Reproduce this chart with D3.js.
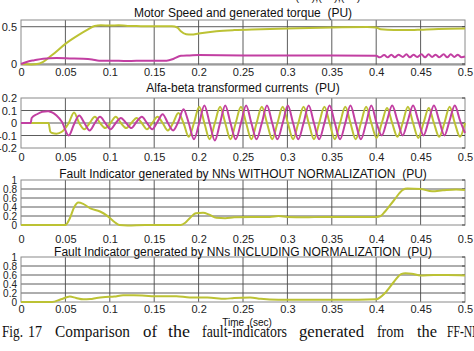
<!DOCTYPE html>
<html>
<head>
    <script src="https://cdnjs.cloudflare.com/ajax/libs/d3/7.8.5/d3.min.js"></script>
    <style>
        body { margin: 0; background: #fff; }
        svg { display: block; font-family: "Liberation Sans", Arial, sans-serif; }
        .tick-label { font-size: 11px; fill: #222; }
        .title { font-size: 12px; fill: #111; white-space: pre; }
        .caption { font-family: "Liberation Serif", "Times New Roman", serif; font-size: 16px; fill: #111; }
    </style>
</head>
<body>
<svg id="chart" width="474" height="351"></svg>
<script>
    // time axis shared by all four panels
    const timeTicks = [0, 0.05, 0.1, 0.15, 0.2, 0.25, 0.3, 0.35, 0.4, 0.45, 0.5];

    // panel 1 : motor speed (yellow) and torque (magenta)
    const speedTime = [0, 0.012, 0.018, 0.025, 0.035, 0.05, 0.065, 0.075, 0.083, 0.09, 0.1, 0.11, 0.12, 0.13, 0.14, 0.15, 0.16, 0.17, 0.176, 0.18, 0.186, 0.192, 0.2, 0.22, 0.24, 0.27, 0.3, 0.35, 0.39, 0.4, 0.405, 0.42, 0.44, 0.45, 0.47, 0.5];
    const speed = [0, -0.005, 0, 0.03, 0.12, 0.27, 0.39, 0.46, 0.51, 0.52, 0.515, 0.52, 0.51, 0.51, 0.505, 0.505, 0.505, 0.505, 0.49, 0.44, 0.4, 0.395, 0.41, 0.44, 0.455, 0.465, 0.475, 0.49, 0.495, 0.49, 0.465, 0.455, 0.455, 0.46, 0.47, 0.475];
    const torqueTime = [0, 0.008, 0.015, 0.025, 0.04, 0.055, 0.07, 0.08, 0.088, 0.1, 0.12, 0.14, 0.164, 0.172, 0.18, 0.19, 0.2, 0.25, 0.3, 0.35, 0.4,
        0.404, 0.409, 0.413, 0.417, 0.421, 0.425, 0.43, 0.434, 0.438, 0.442, 0.446, 0.451, 0.455, 0.459, 0.463, 0.467, 0.471, 0.476, 0.48, 0.484, 0.488, 0.492, 0.496, 0.5];
    const torque = [0, 0.035, 0.05, 0.07, 0.08, 0.075, 0.07, 0.06, 0.045, 0.045, 0.04, 0.045, 0.045, 0.07, 0.11, 0.115, 0.12, 0.115, 0.115, 0.115, 0.11,
        0.09, 0.12, 0.09, 0.125, 0.09, 0.125, 0.095, 0.13, 0.09, 0.125, 0.095, 0.13, 0.09, 0.13, 0.095, 0.125, 0.09, 0.13, 0.09, 0.13, 0.095, 0.125, 0.09, 0.1];

    // panel 2 : alfa-beta currents
    const curTime = [0, 0.011, 0.012, 0.018, 0.024, 0.030, 0.031, 0.033, 0.035, 0.040, 0.046,
        0.0538, 0.0597, 0.0655, 0.0714, 0.0773, 0.0832, 0.0890, 0.0949, 0.1008, 0.1067,
        0.1125, 0.1184, 0.1243, 0.1302, 0.1360, 0.1419, 0.1478, 0.1537, 0.1595, 0.1654,
        0.1713, 0.1772, 0.1830, 0.1889, 0.1948, 0.2007, 0.2065, 0.2124, 0.2183, 0.2242,
        0.2300, 0.2359, 0.2418, 0.2477, 0.2535, 0.2594, 0.2653, 0.2712, 0.2770, 0.2829,
        0.2888, 0.2947, 0.3005, 0.3064, 0.3123, 0.3182, 0.3240, 0.3299, 0.3358, 0.3417,
        0.3475, 0.3534, 0.3593, 0.3652, 0.3710, 0.3769, 0.3828, 0.3887, 0.3945, 0.4004,
        0.4063, 0.4122, 0.4180, 0.4239, 0.4298, 0.4357, 0.4415, 0.4474, 0.4533, 0.4592,
        0.4650, 0.4709, 0.4768, 0.4827, 0.4885, 0.4944, 0.5];
    const curBeta = [0, 0, 0.04, 0.07, 0.09, 0.095, 0.095, 0.09, 0.085, 0.06, 0.01,
        -0.10, -0.01, 0.06, 0.0, -0.06, 0.0, 0.05, 0.0, -0.05, 0.0,
        0.04, 0.0, -0.04, 0.01, 0.05, 0.0, -0.05, 0.01, 0.07, 0.0,
        -0.06, 0.01, 0.11, 0.0, -0.13, 0.0, 0.14, 0.0, -0.14, 0.0,
        0.14, 0.0, -0.13, 0.0, 0.14, 0.0, -0.13, 0.0, 0.14, 0.0,
        -0.13, 0.0, 0.14, 0.0, -0.13, 0.0, 0.14, 0.0, -0.13, 0.0,
        0.14, 0.0, -0.13, 0.0, 0.14, 0.0, -0.13, 0.0, 0.14, 0.0,
        -0.10, 0.02, 0.14, 0.02, -0.10, 0.02, 0.14, 0.02, -0.10, 0.02,
        0.14, 0.02, -0.10, 0.02, 0.14, 0.02, -0.08];
    const curAlpha = [0, 0, 0, 0, 0, 0, 0, -0.07, -0.08, -0.085, -0.07,
        0.0, 0.085, 0.0, -0.05, 0.0, 0.05, 0.0, -0.04, 0.0, 0.05,
        0.0, -0.04, 0.0, 0.04, 0.0, -0.05, 0.0, 0.05, 0.0, -0.06,
        0.0, 0.08, 0.0, -0.11, 0.0, 0.13, 0.0, -0.13, 0.0, 0.13,
        0.0, -0.13, 0.0, 0.13, 0.0, -0.13, 0.0, 0.13, 0.0, -0.13,
        0.0, 0.13, 0.0, -0.13, 0.0, 0.13, 0.0, -0.13, 0.0, 0.13,
        0.0, -0.13, 0.0, 0.13, 0.0, -0.13, 0.0, 0.13, 0.0, -0.12,
        0.0, 0.12, 0.0, -0.11, 0.0, 0.13, 0.0, -0.12, 0.0, 0.12,
        0.0, -0.11, 0.0, 0.13, 0.0, -0.11, 0.0];

    // panel 3 : fault indicator without normalization
    const rawTime = [0, 0.05, 0.055, 0.06, 0.0645, 0.07, 0.078, 0.089, 0.096, 0.102, 0.107, 0.111, 0.12, 0.14, 0.16, 0.18, 0.185, 0.19, 0.197, 0.205, 0.212, 0.22, 0.23, 0.24, 0.26, 0.28, 0.29, 0.3, 0.32, 0.34, 0.36, 0.38, 0.4, 0.405, 0.41, 0.42, 0.43, 0.435, 0.45, 0.463, 0.475, 0.49, 0.5];
    const rawFault = [0, 0, 0.15, 0.4, 0.5, 0.47, 0.37, 0.3, 0.22, 0.12, 0.04, 0, -0.01, 0, 0, 0, 0.05, 0.15, 0.26, 0.27, 0.23, 0.16, 0.15, 0.17, 0.18, 0.18, 0.2, 0.18, 0.17, 0.18, 0.18, 0.18, 0.18, 0.2, 0.3, 0.55, 0.78, 0.81, 0.8, 0.75, 0.77, 0.79, 0.78];

    // panel 4 : fault indicator with normalization
    const normTime = [0, 0.035, 0.045, 0.055, 0.062, 0.07, 0.078, 0.085, 0.095, 0.105, 0.115, 0.127, 0.14, 0.15, 0.175, 0.19, 0.21, 0.23, 0.24, 0.258, 0.27, 0.29, 0.32, 0.35, 0.38, 0.4, 0.41, 0.42, 0.428, 0.433, 0.44, 0.45, 0.465, 0.48, 0.5];
    const normFault = [0, 0, 0.06, 0.12, 0.09, 0.06, 0.065, 0.09, 0.11, 0.12, 0.15, 0.15, 0.14, 0.13, 0.13, 0.1, 0.1, 0.07, 0.09, 0.1, 0.07, 0.05, 0.05, 0.05, 0.05, 0.06, 0.2, 0.45, 0.62, 0.64, 0.63, 0.59, 0.6, 0.6, 0.59];

    const yellow = "#bcc234";
    const magenta = "#c23fa2";

    const panels = [
        { title: "Motor Speed and generated torque  (PU)", top: 20, bottom: 65, domain: [-0.013, 0.59],
          yTicks: [0, 0.5], yFont: 11, titleY: 17, labelY: 76,
          series: [{ t: speedTime, v: speed, color: yellow }, { t: torqueTime, v: torque, color: magenta }] },
        { title: "Alfa-beta transformed currents  (PU)", top: 98, bottom: 148, domain: [-0.2, 0.2],
          yTicks: [-0.2, -0.1, 0, 0.1, 0.2], yFont: 11, titleY: 92, labelY: 161,
          series: [{ t: curTime, v: curAlpha, color: yellow }, { t: curTime, v: curBeta, color: magenta }] },
        { title: "Fault Indicator generated by NNs WITHOUT NORMALIZATION  (PU)", top: 180, bottom: 225, domain: [0, 1],
          yTicks: [0, 0.2, 0.4, 0.6, 0.8, 1], yFont: 10, titleY: 178, labelY: 243,
          series: [{ t: rawTime, v: rawFault, color: yellow }] },
        { title: "Fault Indicator generated by NNs INCLUDING NORMALIZATION  (PU)", top: 257, bottom: 302, domain: [0, 1],
          yTicks: [0, 0.2, 0.4, 0.6, 0.8, 1], yFont: 10, titleY: 255.5, labelY: 312.5,
          series: [{ t: normTime, v: normFault, color: yellow }] }
    ];

    const svg = d3.select("#chart");
    const left = 21, right = 465;
    const x = d3.scaleLinear().domain([0, 0.5]).range([left, right]);

    // clipped text at the very top of the crop
    svg.append("text").attr("class", "tick-label")
        .attr("x", 328).attr("y", 1).attr("text-anchor", "middle")
        .style("white-space", "pre")
        .text("(    ),(    ),(    )");

    panels.forEach(p => {
        const y = d3.scaleLinear().domain(p.domain).range([p.bottom, p.top]);
        const g = svg.append("g");

        // grid
        g.selectAll(".vgrid").data(timeTicks.slice(1, -1)).enter().append("line")
            .attr("x1", d => x(d)).attr("x2", d => x(d))
            .attr("y1", p.top).attr("y2", p.bottom)
            .attr("stroke", "#4a4a4a").attr("stroke-width", 0.9);
        g.selectAll(".hgrid").data(p.yTicks.filter(d => y(d) < p.bottom - 0.5 && y(d) > p.top + 0.5)).enter().append("line")
            .attr("x1", left).attr("x2", right)
            .attr("y1", d => y(d)).attr("y2", d => y(d))
            .attr("stroke", "#4a4a4a").attr("stroke-width", 0.9);

        // frame
        g.append("rect")
            .attr("x", left).attr("y", p.top)
            .attr("width", right - left).attr("height", p.bottom - p.top)
            .attr("fill", "none").attr("stroke", "#8a8a8a").attr("stroke-width", 1);

        // small tick marks on the right edge
        g.selectAll(".rt").data(p.yTicks).enter().append("line")
            .attr("x1", right - 3).attr("x2", right)
            .attr("y1", d => y(d)).attr("y2", d => y(d))
            .attr("stroke", "#444");

        // series
        p.series.forEach(s => {
            const line = d3.line()
                .x((d, i) => x(s.t[i]))
                .y(d => y(d))
                .curve(d3.curveMonotoneX);
            g.append("path")
                .attr("d", line(s.v))
                .attr("fill", "none")
                .attr("stroke", s.color)
                .attr("stroke-width", 2)
                .attr("stroke-linejoin", "round");
        });

        // tick labels via d3 axes
        const xAxis = d3.axisBottom(x).tickValues(timeTicks).tickSize(0).tickFormat(d => String(d));
        const ax = g.append("g").attr("transform", `translate(0,${p.labelY - 11})`).call(xAxis);
        ax.select(".domain").remove();
        ax.attr("font-size", null).attr("font-family", null);
        ax.selectAll("text").attr("class", "tick-label").attr("dy", null).attr("y", 11).attr("fill", null);

        const yAxis = d3.axisLeft(y).tickValues(p.yTicks).tickSize(0).tickFormat(d => String(d));
        const ay = g.append("g").attr("transform", `translate(${left - 4},0)`).call(yAxis);
        ay.select(".domain").remove();
        ay.attr("font-size", null).attr("font-family", null);
        ay.selectAll("text").attr("class", "tick-label").attr("x", 0).attr("fill", null)
            .style("font-size", p.yFont + "px");

        // title
        svg.append("text").attr("class", "title")
            .attr("x", (left + right) / 2).attr("y", p.titleY)
            .attr("text-anchor", "middle")
            .text(p.title);
    });

    svg.append("text").attr("class", "title")
        .attr("x", 247).attr("y", 326).attr("text-anchor", "middle")
        .style("font-size", "10px")
        .text("Time  (sec)");

    // justified caption line: word start and width as in the source
    const captionWords = ["Fig.", "17", "Comparison", "of", "the", "fault-indicators", "generated", "from", "the", "FF-NNs"];
    const captionStarts = [2, 28, 55, 143, 168, 202, 299, 377, 417, 447];
    const captionWidths = [21, 14, 75, 14, 22, 85, 65, 27, 20, 38];
    svg.append("g").selectAll("text").data(captionWords).enter().append("text")
        .attr("class", "caption")
        .attr("x", (d, i) => captionStarts[i])
        .attr("y", 337)
        .attr("textLength", (d, i) => captionWidths[i])
        .attr("lengthAdjust", "spacingAndGlyphs")
        .text(d => d);
</script>
</body>
</html>
